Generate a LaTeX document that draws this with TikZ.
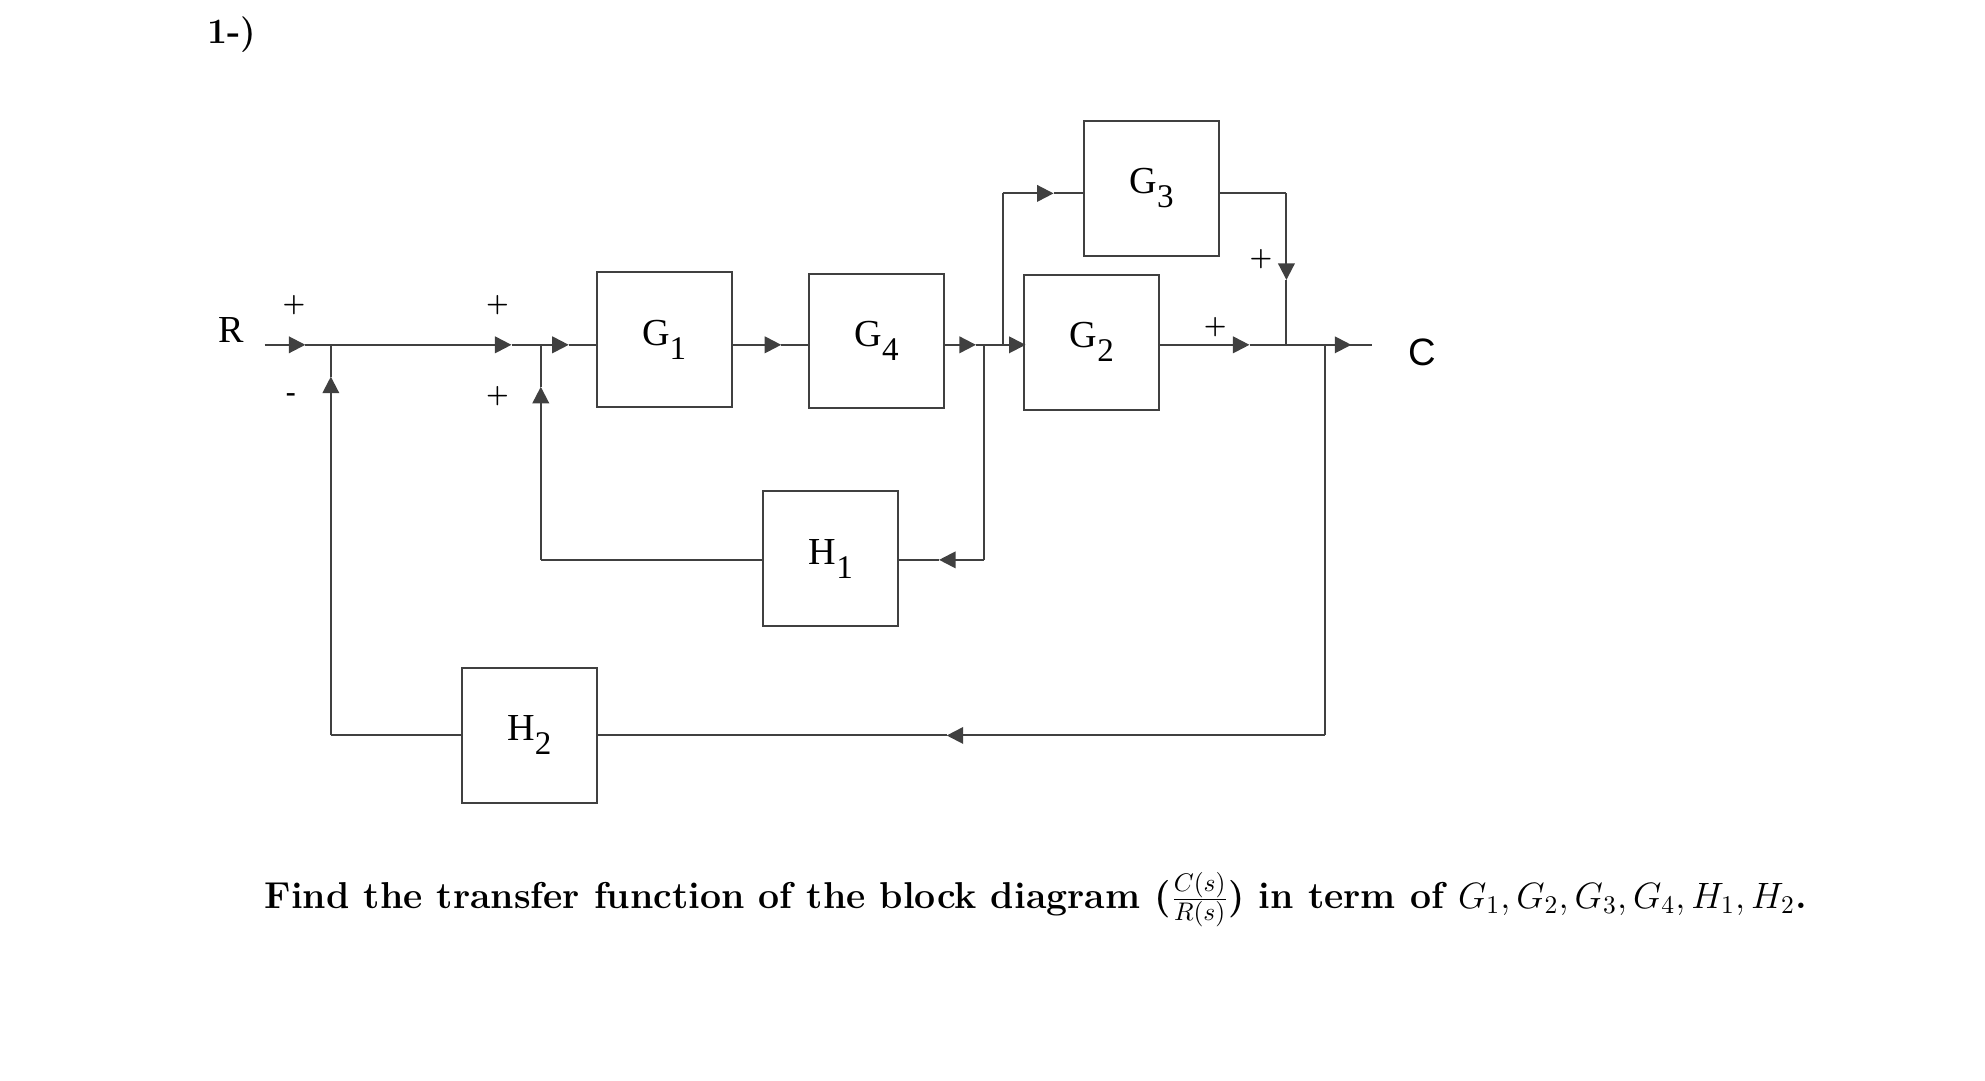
\documentclass[tikz,border=0pt]{standalone}
\usepackage{fontspec}
\newfontfamily\tnr{Liberation Serif}
\newfontfamily\ars{Liberation Sans}
\usetikzlibrary{arrows.meta}
\newcommand{\sbx}[1]{\raisebox{-0.8ex}{\fontsize{13}{14}\selectfont #1}}
\begin{document}
\begin{tikzpicture}[x=0.5pt,y=-0.5pt,
  ln/.style={draw=black!75,line width=0.8pt},
  arr/.style={ln,-{Triangle[length=6.5pt,width=6.5pt]}},
  blk/.style={draw=black!75,line width=0.8pt,minimum width=53pt,minimum height=53pt,inner sep=0pt,font=\tnr\fontsize{15}{18}\selectfont},
  sg/.style={font=\bfseries\fontsize{10}{11}\selectfont}]
\useasboundingbox (0,0) rectangle (1560,849);
\node[font=\bfseries\fontsize{14}{16}\selectfont] (t1) at (182,27) {1-)};
\node[font=\tnr\fontsize{15}{18}\selectfont] (R) at (182,259) {R};
\node[font=\ars\fontsize{15}{18}\selectfont] (C) at (1118,277) {C};
\node[blk] (G1) at (522,267) {G\sbx{1}};
\node[blk] (G4) at (689,268) {G\sbx{4}};
\node[blk] (G2) at (858,269) {G\sbx{2}};
\node[blk] (G3) at (905,148) {G\sbx{3}};
\node[blk] (H1) at (653,439) {H\sbx{1}};
\node[blk] (H2) at (416,578) {H\sbx{2}};
% coordinates
\coordinate (s0) at (208,271);
\coordinate (a1) at (240,271);
\coordinate (j1) at (260,271);
\coordinate (a2) at (402,271);
\coordinate (j2) at (425,271);
\coordinate (a3) at (447,271);
\coordinate (g1i) at (469,271);
\coordinate (g1o) at (575,271);
\coordinate (a4) at (614,271);
\coordinate (g4i) at (636,271);
\coordinate (g4o) at (742,271);
\coordinate (a5) at (767,271);
\coordinate (p1) at (773,271);
\coordinate (p2) at (788,271);
\coordinate (g2i) at (806,271);
\coordinate (g2o) at (912,271);
\coordinate (a6) at (982,271);
\coordinate (j3) at (1011,271);
\coordinate (p3) at (1041,271);
\coordinate (a7) at (1062,271);
\coordinate (e) at (1078,271);
\coordinate (u1) at (788,152);
\coordinate (a8) at (828,152);
\coordinate (g3i) at (852,152);
\coordinate (g3o) at (958,152);
\coordinate (u2) at (1011,152);
\coordinate (a9) at (1011,220);
\coordinate (h1a) at (773,440);
\coordinate (a10) at (738,440);
\coordinate (h1i) at (706,440);
\coordinate (h1o) at (600,440);
\coordinate (h1b) at (425,440);
\coordinate (a11) at (425,304);
\coordinate (h2a) at (1041,578);
\coordinate (a12) at (744,578);
\coordinate (h2i) at (469,578);
\coordinate (h2o) at (363,578);
\coordinate (h2b) at (260,578);
\coordinate (a13) at (260,296);
% main path
\draw[arr] (s0) -- (a1);
\draw[arr] (a1) -- (a2); \draw[ln] (a2) -- (j2);
\draw[arr] (j2) -- (a3); \draw[ln] (a3) -- (g1i);
\draw[arr] (g1o) -- (a4); \draw[ln] (a4) -- (g4i);
\draw[arr] (g4o) -- (a5); \draw[arr] (a5) -- (g2i);
\draw[arr] (g2o) -- (a6); \draw[ln] (a6) -- (a7);
\draw[arr] (j3) -- (a7); \draw[ln] (a7) -- (e);
% G3 branch
\draw[ln] (p2) -- (u1); \draw[arr] (u1) -- (a8); \draw[ln] (a8) -- (g3i);
\draw[ln] (g3o) -- (u2); \draw[arr] (u2) -- (a9); \draw[ln] (a9) -- (j3);
% H1 loop
\draw[ln] (p1) -- (h1a); \draw[arr] (h1a) -- (a10); \draw[ln] (a10) -- (h1i);
\draw[ln] (h1o) -- (h1b); \draw[arr] (h1b) -- (a11); \draw[ln] (a11) -- (j2);
% H2 loop
\draw[ln] (p3) -- (h2a); \draw[arr] (h2a) -- (a12); \draw[ln] (a12) -- (h2i);
\draw[ln] (h2o) -- (h2b); \draw[arr] (h2b) -- (a13); \draw[ln] (a13) -- (j1);
% signs
\node[sg] (s1) at (231,240) {+};
\node[sg] (s2) at (229,312) {-};
\node[sg] (s3) at (391,240) {+};
\node[sg] (s4) at (391,311) {+};
\node[sg] (s5) at (955,257) {+};
\node[sg] (s6) at (991,204) {+};
\node[anchor=west,font=\bfseries\fontsize{14.7}{17}\selectfont] (txt) at (201,707)
 {Find the transfer function of the block diagram ($\frac{C(s)}{R(s)}$) in term of $G_1,G_2,G_3,G_4,H_1,H_2$.};
\end{tikzpicture}
\end{document}
